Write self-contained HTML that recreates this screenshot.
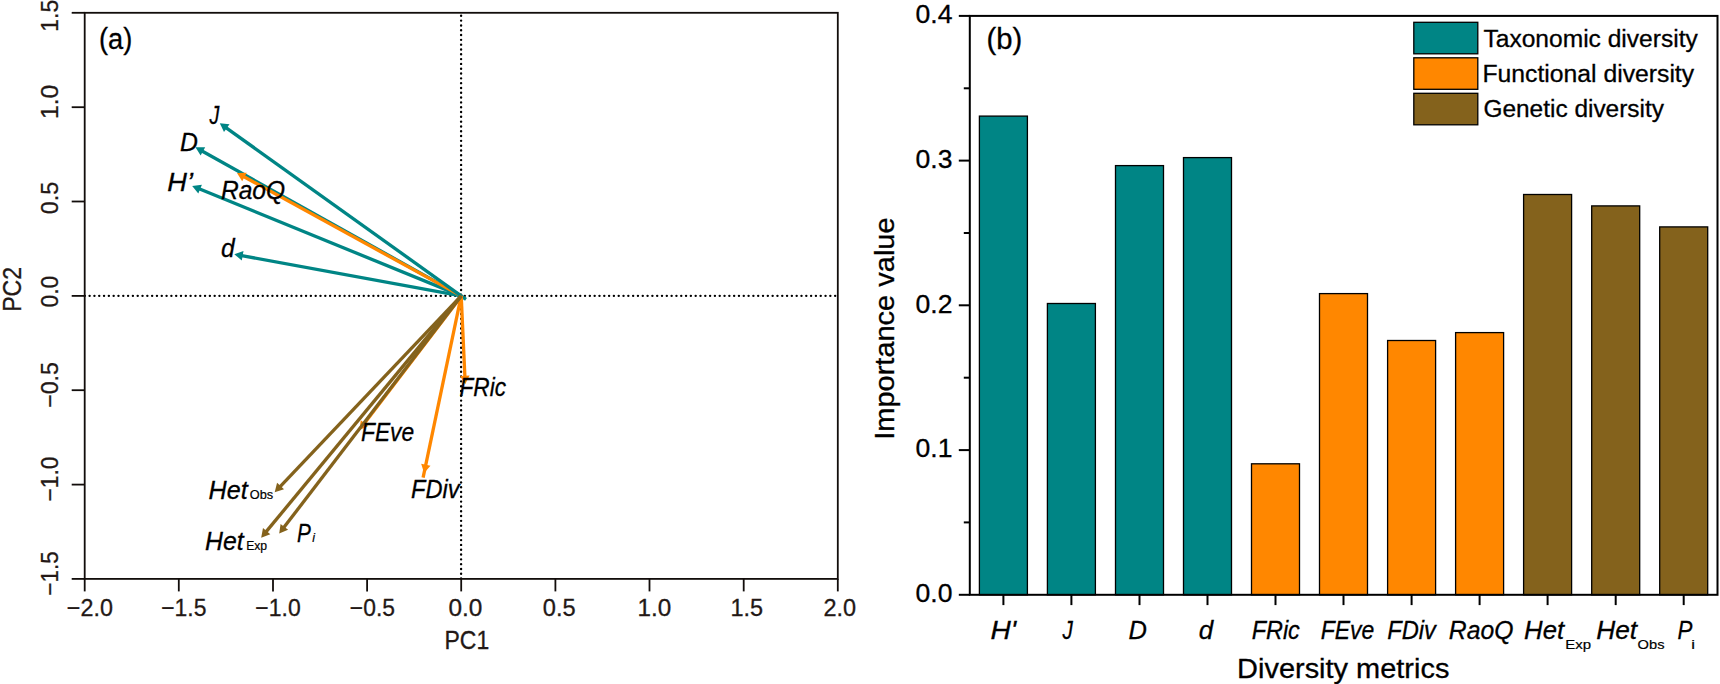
<!DOCTYPE html>
<html lang="en"><head><meta charset="utf-8"><title>Diversity metrics figure</title>
<style>
html,body{margin:0;padding:0;background:#fff;}
body{width:1720px;height:684px;overflow:hidden;}
svg{display:block;}
text{font-family:"Liberation Sans", Arial, sans-serif;}
.it{font-style:italic;}
</style></head><body>
<svg width="1720" height="684" viewBox="0 0 1720 684">
<rect x="0" y="0" width="1720" height="684" fill="#ffffff"/>
<g id="panel-a">
<g stroke="#000" stroke-width="2.4" stroke-linecap="round" stroke-dasharray="0.01 4.8" fill="none">
<line x1="84.8" y1="295.85" x2="837.8" y2="295.85"/>
<line x1="461.1" y1="15.8" x2="461.1" y2="578.9"/>
</g>
<rect x="84.7" y="12.8" width="753.1" height="566.1" fill="none" stroke="#120d0b" stroke-width="1.8"/>
<g stroke="#120d0b" stroke-width="1.8">
<line x1="84.7" y1="578.9" x2="84.7" y2="591.4"/>
<line x1="178.8" y1="578.9" x2="178.8" y2="591.4"/>
<line x1="273.0" y1="578.9" x2="273.0" y2="591.4"/>
<line x1="367.1" y1="578.9" x2="367.1" y2="591.4"/>
<line x1="461.2" y1="578.9" x2="461.2" y2="591.4"/>
<line x1="555.4" y1="578.9" x2="555.4" y2="591.4"/>
<line x1="649.5" y1="578.9" x2="649.5" y2="591.4"/>
<line x1="743.7" y1="578.9" x2="743.7" y2="591.4"/>
<line x1="837.8" y1="578.9" x2="837.8" y2="591.4"/>
<line x1="71.7" y1="12.8" x2="84.7" y2="12.8"/>
<line x1="71.7" y1="107.2" x2="84.7" y2="107.2"/>
<line x1="71.7" y1="201.5" x2="84.7" y2="201.5"/>
<line x1="71.7" y1="295.9" x2="84.7" y2="295.9"/>
<line x1="71.7" y1="390.2" x2="84.7" y2="390.2"/>
<line x1="71.7" y1="484.6" x2="84.7" y2="484.6"/>
<line x1="71.7" y1="578.9" x2="84.7" y2="578.9"/>
</g>
<line x1="461.5" y1="296.1" x2="363.9" y2="423.9" stroke="#FF8700" stroke-width="3.3"/>
<polygon points="359.4,429.9 360.8,420.3 368.3,426.0" fill="#FF8700"/>
<line x1="461.2" y1="295.9" x2="199.1" y2="188.8" stroke="#008585" stroke-width="3.3"/>
<polygon points="192.2,186.0 201.9,184.8 198.3,193.6" fill="#008585"/>
<line x1="461.2" y1="295.9" x2="202.0" y2="151.0" stroke="#008585" stroke-width="3.3"/>
<polygon points="195.5,147.3 205.2,147.3 200.6,155.6" fill="#008585"/>
<line x1="461.2" y1="295.9" x2="241.7" y2="255.6" stroke="#008585" stroke-width="3.3"/>
<polygon points="234.3,254.2 243.5,251.1 241.8,260.4" fill="#008585"/>
<line x1="461.2" y1="295.9" x2="243.6" y2="176.5" stroke="#FF8700" stroke-width="3.3"/>
<polygon points="237.0,172.9 246.7,172.8 242.2,181.2" fill="#FF8700"/>
<line x1="466.0" y1="299.3" x2="225.9" y2="127.6" stroke="#008585" stroke-width="3.3"/>
<polygon points="219.8,123.2 229.5,124.3 224.0,132.0" fill="#008585"/>
<line x1="461.2" y1="295.9" x2="423.1" y2="477.6" stroke="#FF8700" stroke-width="3.3"/>
<polygon points="424.1,473.0 421.2,463.7 430.5,465.7" fill="#FF8700"/>
<line x1="461.2" y1="295.9" x2="464.9" y2="376.7" stroke="#FF8700" stroke-width="3.3"/>
<polygon points="465.2,384.2 460.1,375.9 469.6,375.5" fill="#FF8700"/>
<line x1="461.2" y1="295.9" x2="279.9" y2="486.8" stroke="#84621C" stroke-width="3.3"/>
<polygon points="274.7,492.2 277.1,482.8 284.0,489.3" fill="#84621C"/>
<line x1="461.2" y1="295.9" x2="266.0" y2="531.9" stroke="#84621C" stroke-width="3.3"/>
<polygon points="261.2,537.7 263.0,528.1 270.3,534.2" fill="#84621C"/>
<line x1="461.2" y1="295.9" x2="283.8" y2="527.6" stroke="#84621C" stroke-width="3.3"/>
<polygon points="279.2,533.6 280.6,524.0 288.1,529.7" fill="#84621C"/>
</g>
<g id="panel-b">
<rect x="979.4" y="116.1" width="48.0" height="478.7" fill="#008585" stroke="#000" stroke-width="1.3"/>
<rect x="1047.4" y="303.5" width="48.0" height="291.3" fill="#008585" stroke="#000" stroke-width="1.3"/>
<rect x="1115.5" y="165.6" width="48.0" height="429.2" fill="#008585" stroke="#000" stroke-width="1.3"/>
<rect x="1183.5" y="157.6" width="48.0" height="437.2" fill="#008585" stroke="#000" stroke-width="1.3"/>
<rect x="1251.5" y="463.8" width="48.0" height="131.0" fill="#FF8700" stroke="#000" stroke-width="1.3"/>
<rect x="1319.5" y="293.6" width="48.0" height="301.2" fill="#FF8700" stroke="#000" stroke-width="1.3"/>
<rect x="1387.6" y="340.5" width="48.0" height="254.3" fill="#FF8700" stroke="#000" stroke-width="1.3"/>
<rect x="1455.6" y="332.6" width="48.0" height="262.2" fill="#FF8700" stroke="#000" stroke-width="1.3"/>
<rect x="1523.6" y="194.5" width="48.0" height="400.3" fill="#84621C" stroke="#000" stroke-width="1.3"/>
<rect x="1591.7" y="205.9" width="48.0" height="388.9" fill="#84621C" stroke="#000" stroke-width="1.3"/>
<rect x="1659.7" y="226.9" width="48.0" height="367.9" fill="#84621C" stroke="#000" stroke-width="1.3"/>
<rect x="969.8" y="15.9" width="747.7" height="578.9" fill="none" stroke="#000" stroke-width="2.0"/>
<g stroke="#000" stroke-width="2.0">
<line x1="958.8" y1="594.8" x2="969.8" y2="594.8"/>
<line x1="958.8" y1="450.1" x2="969.8" y2="450.1"/>
<line x1="958.8" y1="305.3" x2="969.8" y2="305.3"/>
<line x1="958.8" y1="160.6" x2="969.8" y2="160.6"/>
<line x1="958.8" y1="15.9" x2="969.8" y2="15.9"/>
<line x1="963.8" y1="522.4" x2="969.8" y2="522.4"/>
<line x1="963.8" y1="377.7" x2="969.8" y2="377.7"/>
<line x1="963.8" y1="233.0" x2="969.8" y2="233.0"/>
<line x1="963.8" y1="88.3" x2="969.8" y2="88.3"/>
<line x1="1003.4" y1="594.8" x2="1003.4" y2="605.1"/>
<line x1="1071.4" y1="594.8" x2="1071.4" y2="605.1"/>
<line x1="1139.5" y1="594.8" x2="1139.5" y2="605.1"/>
<line x1="1207.5" y1="594.8" x2="1207.5" y2="605.1"/>
<line x1="1275.5" y1="594.8" x2="1275.5" y2="605.1"/>
<line x1="1343.5" y1="594.8" x2="1343.5" y2="605.1"/>
<line x1="1411.6" y1="594.8" x2="1411.6" y2="605.1"/>
<line x1="1479.6" y1="594.8" x2="1479.6" y2="605.1"/>
<line x1="1547.6" y1="594.8" x2="1547.6" y2="605.1"/>
<line x1="1615.7" y1="594.8" x2="1615.7" y2="605.1"/>
<line x1="1683.7" y1="594.8" x2="1683.7" y2="605.1"/>
</g>
<rect x="1413.8" y="22.3" width="64" height="31.5" fill="#008585" stroke="#000" stroke-width="1.3"/>
<rect x="1413.8" y="57.8" width="64" height="31.5" fill="#FF8700" stroke="#000" stroke-width="1.3"/>
<rect x="1413.8" y="93.3" width="64" height="31.5" fill="#84621C" stroke="#000" stroke-width="1.3"/>
</g>
<g id="labels">
<text x="66.82" y="616.00" font-size="23.86" fill="#231815" stroke="#231815" stroke-width="0.3" textLength="46.06" lengthAdjust="spacingAndGlyphs">−2.0</text>
<text x="161.24" y="616.00" font-size="23.86" fill="#231815" stroke="#231815" stroke-width="0.3" textLength="45.23" lengthAdjust="spacingAndGlyphs">−1.5</text>
<text x="255.34" y="616.00" font-size="23.86" fill="#231815" stroke="#231815" stroke-width="0.3" textLength="45.33" lengthAdjust="spacingAndGlyphs">−1.0</text>
<text x="349.84" y="616.00" font-size="23.86" fill="#231815" stroke="#231815" stroke-width="0.3" textLength="45.12" lengthAdjust="spacingAndGlyphs">−0.5</text>
<text x="448.48" y="616.00" font-size="23.86" fill="#231815" stroke="#231815" stroke-width="0.3" textLength="33.92" lengthAdjust="spacingAndGlyphs">0.0</text>
<text x="542.81" y="616.00" font-size="23.86" fill="#231815" stroke="#231815" stroke-width="0.3" textLength="32.85" lengthAdjust="spacingAndGlyphs">0.5</text>
<text x="637.47" y="616.00" font-size="23.86" fill="#231815" stroke="#231815" stroke-width="0.3" textLength="33.72" lengthAdjust="spacingAndGlyphs">1.0</text>
<text x="730.53" y="616.00" font-size="23.86" fill="#231815" stroke="#231815" stroke-width="0.3" textLength="32.62" lengthAdjust="spacingAndGlyphs">1.5</text>
<text x="823.52" y="616.00" font-size="23.86" fill="#231815" stroke="#231815" stroke-width="0.3" textLength="32.64" lengthAdjust="spacingAndGlyphs">2.0</text>
<text x="57.80" y="31.72" font-size="23.86" fill="#231815" stroke="#231815" stroke-width="0.3" textLength="31.85" lengthAdjust="spacingAndGlyphs" transform="rotate(-90 57.80 31.72)">1.5</text>
<text x="57.80" y="119.07" font-size="23.86" fill="#231815" stroke="#231815" stroke-width="0.3" textLength="34.28" lengthAdjust="spacingAndGlyphs" transform="rotate(-90 57.80 119.07)">1.0</text>
<text x="57.80" y="214.18" font-size="23.86" fill="#231815" stroke="#231815" stroke-width="0.3" textLength="32.53" lengthAdjust="spacingAndGlyphs" transform="rotate(-90 57.80 214.18)">0.5</text>
<text x="57.80" y="307.46" font-size="23.86" fill="#231815" stroke="#231815" stroke-width="0.3" textLength="31.78" lengthAdjust="spacingAndGlyphs" transform="rotate(-90 57.80 307.46)">0.0</text>
<text x="57.80" y="407.87" font-size="23.86" fill="#231815" stroke="#231815" stroke-width="0.3" textLength="45.75" lengthAdjust="spacingAndGlyphs" transform="rotate(-90 57.80 407.87)">−0.5</text>
<text x="57.80" y="501.46" font-size="23.86" fill="#231815" stroke="#231815" stroke-width="0.3" textLength="45.02" lengthAdjust="spacingAndGlyphs" transform="rotate(-90 57.80 501.46)">−1.0</text>
<text x="57.80" y="595.44" font-size="23.86" fill="#231815" stroke="#231815" stroke-width="0.3" textLength="44.07" lengthAdjust="spacingAndGlyphs" transform="rotate(-90 57.80 595.44)">−1.5</text>
<text x="444.49" y="648.70" font-size="25.36" fill="#231815" stroke="#231815" stroke-width="0.3" textLength="44.73" lengthAdjust="spacingAndGlyphs">PC1</text>
<text x="21.00" y="311.83" font-size="25.36" fill="#231815" stroke="#231815" stroke-width="0.3" textLength="45.05" lengthAdjust="spacingAndGlyphs" transform="rotate(-90 21.00 311.83)">PC2</text>
<text x="98.92" y="49.30" font-size="29.07" fill="#000000" stroke="#000000" stroke-width="0.3" textLength="33.31" lengthAdjust="spacingAndGlyphs">(a)</text>
<text x="209.40" y="124.00" font-size="25.07" fill="#000000" class="it" stroke="#000000" stroke-width="0.3" textLength="9.83" lengthAdjust="spacingAndGlyphs">J</text>
<text x="179.91" y="150.70" font-size="25.07" fill="#000000" class="it" stroke="#000000" stroke-width="0.3" textLength="17.88" lengthAdjust="spacingAndGlyphs">D</text>
<text x="167.31" y="190.50" font-size="25.07" fill="#000000" class="it" stroke="#000000" stroke-width="0.3" textLength="25.73" lengthAdjust="spacingAndGlyphs">H’</text>
<text x="220.92" y="199.10" font-size="25.07" fill="#000000" class="it" stroke="#000000" stroke-width="0.3" textLength="64.15" lengthAdjust="spacingAndGlyphs">RaoQ</text>
<text x="220.92" y="257.30" font-size="25.07" fill="#000000" class="it" stroke="#000000" stroke-width="0.3" textLength="13.65" lengthAdjust="spacingAndGlyphs">d</text>
<text x="459.60" y="396.20" font-size="25.07" fill="#000000" class="it" stroke="#000000" stroke-width="0.3" textLength="46.36" lengthAdjust="spacingAndGlyphs">FRic</text>
<text x="360.99" y="441.20" font-size="25.07" fill="#000000" class="it" stroke="#000000" stroke-width="0.3" textLength="53.16" lengthAdjust="spacingAndGlyphs">FEve</text>
<text x="411.06" y="498.10" font-size="25.07" fill="#000000" class="it" stroke="#000000" stroke-width="0.3" textLength="48.35" lengthAdjust="spacingAndGlyphs">FDiv</text>
<text x="208.60" y="499.40" font-size="25.07" fill="#000000" class="it" stroke="#000000" stroke-width="0.3" textLength="39.12" lengthAdjust="spacingAndGlyphs">Het</text>
<text x="249.80" y="499.40" font-size="12.75" fill="#000000" stroke="#000000" stroke-width="0.2" textLength="23.39" lengthAdjust="spacingAndGlyphs">Obs</text>
<text x="205.11" y="549.70" font-size="25.07" fill="#000000" class="it" stroke="#000000" stroke-width="0.3" textLength="38.62" lengthAdjust="spacingAndGlyphs">Het</text>
<text x="246.14" y="549.70" font-size="12.75" fill="#000000" stroke="#000000" stroke-width="0.2" textLength="21.04" lengthAdjust="spacingAndGlyphs">Exp</text>
<text x="296.88" y="541.70" font-size="25.07" fill="#000000" class="it" stroke="#000000" stroke-width="0.3" textLength="13.79" lengthAdjust="spacingAndGlyphs">P</text>
<text x="312.20" y="541.70" font-size="12.75" fill="#000000" class="it" stroke="#000000" stroke-width="0.2" textLength="2.75" lengthAdjust="spacingAndGlyphs">i</text>
<text x="915.60" y="602.10" font-size="26.57" fill="#000000" stroke="#000000" stroke-width="0.3" textLength="36.94" lengthAdjust="spacingAndGlyphs">0.0</text>
<text x="915.60" y="457.37" font-size="26.57" fill="#000000" stroke="#000000" stroke-width="0.3" textLength="36.94" lengthAdjust="spacingAndGlyphs">0.1</text>
<text x="915.60" y="312.65" font-size="26.57" fill="#000000" stroke="#000000" stroke-width="0.3" textLength="36.94" lengthAdjust="spacingAndGlyphs">0.2</text>
<text x="915.60" y="167.93" font-size="26.57" fill="#000000" stroke="#000000" stroke-width="0.3" textLength="36.94" lengthAdjust="spacingAndGlyphs">0.3</text>
<text x="915.60" y="23.20" font-size="26.57" fill="#000000" stroke="#000000" stroke-width="0.3" textLength="36.94" lengthAdjust="spacingAndGlyphs">0.4</text>
<text x="893.60" y="439.72" font-size="27.39" fill="#000000" stroke="#000000" stroke-width="0.3" textLength="222.28" lengthAdjust="spacingAndGlyphs" transform="rotate(-90 893.60 439.72)">Importance value</text>
<text x="1237.08" y="677.60" font-size="27.39" fill="#000000" stroke="#000000" stroke-width="0.3" textLength="212.32" lengthAdjust="spacingAndGlyphs">Diversity metrics</text>
<text x="986.47" y="49.00" font-size="28.77" fill="#000000" stroke="#000000" stroke-width="0.3" textLength="35.74" lengthAdjust="spacingAndGlyphs">(b)</text>
<text x="990.52" y="639.10" font-size="26.09" fill="#000000" class="it" stroke="#000000" stroke-width="0.3" textLength="25.68" lengthAdjust="spacingAndGlyphs">H'</text>
<text x="1062.40" y="639.10" font-size="26.09" fill="#000000" class="it" stroke="#000000" stroke-width="0.3" textLength="10.34" lengthAdjust="spacingAndGlyphs">J</text>
<text x="1128.52" y="639.10" font-size="26.09" fill="#000000" class="it" stroke="#000000" stroke-width="0.3" textLength="18.4" lengthAdjust="spacingAndGlyphs">D</text>
<text x="1198.81" y="639.10" font-size="26.09" fill="#000000" class="it" stroke="#000000" stroke-width="0.3" textLength="14.41" lengthAdjust="spacingAndGlyphs">d</text>
<text x="1251.70" y="639.10" font-size="26.09" fill="#000000" class="it" stroke="#000000" stroke-width="0.3" textLength="48.15" lengthAdjust="spacingAndGlyphs">FRic</text>
<text x="1320.72" y="639.10" font-size="26.09" fill="#000000" class="it" stroke="#000000" stroke-width="0.3" textLength="53.65" lengthAdjust="spacingAndGlyphs">FEve</text>
<text x="1387.29" y="639.10" font-size="26.09" fill="#000000" class="it" stroke="#000000" stroke-width="0.3" textLength="48.65" lengthAdjust="spacingAndGlyphs">FDiv</text>
<text x="1448.85" y="639.10" font-size="26.09" fill="#000000" class="it" stroke="#000000" stroke-width="0.3" textLength="64.51" lengthAdjust="spacingAndGlyphs">RaoQ</text>
<text x="1524.11" y="639.10" font-size="26.09" fill="#000000" class="it" stroke="#000000" stroke-width="0.3" textLength="40.09" lengthAdjust="spacingAndGlyphs">Het</text>
<text x="1596.19" y="639.10" font-size="26.09" fill="#000000" class="it" stroke="#000000" stroke-width="0.3" textLength="41.0" lengthAdjust="spacingAndGlyphs">Het</text>
<text x="1677.44" y="639.10" font-size="26.09" fill="#000000" class="it" stroke="#000000" stroke-width="0.3" textLength="14.9" lengthAdjust="spacingAndGlyphs">P</text>
<text x="1565.38" y="649.10" font-size="13.33" fill="#000000" stroke="#000000" stroke-width="0.2" textLength="25.81" lengthAdjust="spacingAndGlyphs">Exp</text>
<text x="1637.60" y="649.10" font-size="13.33" fill="#000000" stroke="#000000" stroke-width="0.2" textLength="26.9" lengthAdjust="spacingAndGlyphs">Obs</text>
<text x="1691.35" y="649.10" font-size="13.33" fill="#000000" stroke="#000000" stroke-width="0.2" textLength="3.71" lengthAdjust="spacingAndGlyphs">i</text>
<text x="1483.48" y="46.80" font-size="24.06" fill="#000000" stroke="#000000" stroke-width="0.3" textLength="214.33" lengthAdjust="spacingAndGlyphs">Taxonomic diversity</text>
<text x="1482.44" y="82.10" font-size="24.06" fill="#000000" stroke="#000000" stroke-width="0.3" textLength="211.68" lengthAdjust="spacingAndGlyphs">Functional diversity</text>
<text x="1483.48" y="117.40" font-size="24.06" fill="#000000" stroke="#000000" stroke-width="0.3" textLength="180.46" lengthAdjust="spacingAndGlyphs">Genetic diversity</text>
</g>
</svg></body></html>
